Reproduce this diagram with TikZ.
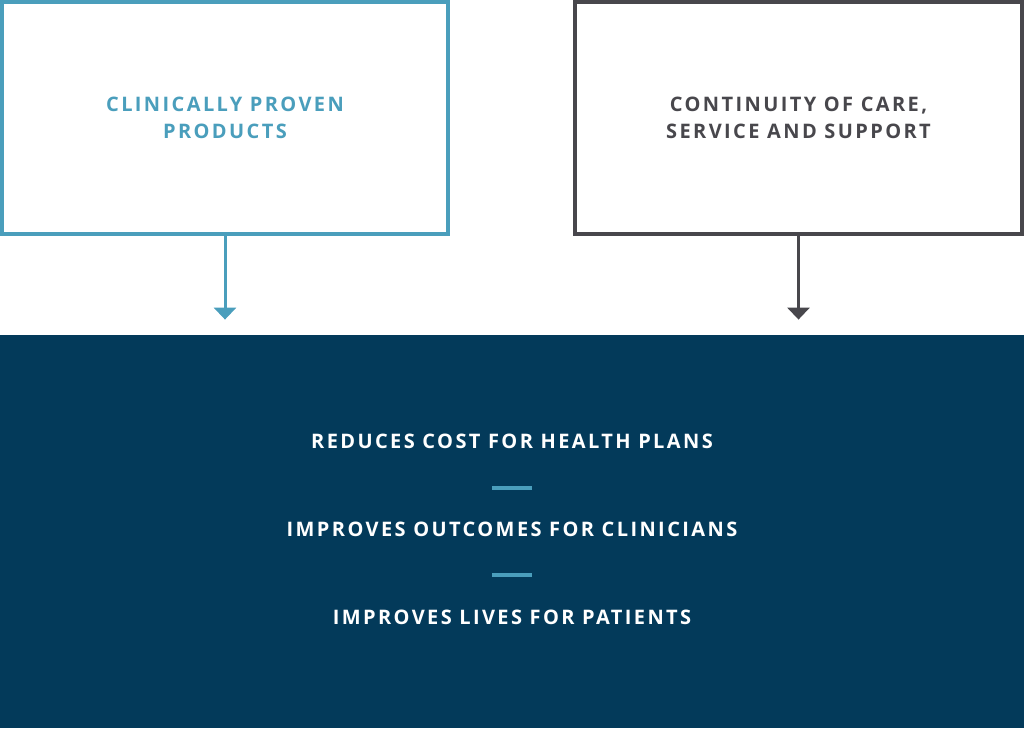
\documentclass[tikz,border=0pt]{standalone}
\usepackage{fontspec}
\usepackage{tikz}
\usetikzlibrary{arrows.meta,positioning}
\setmainfont{Open Sans}
\newfontfamily\capsfont[LetterSpace=12]{Open Sans}
\definecolor{CareTeal}{HTML}{4A9EBC}
\definecolor{CareGray}{HTML}{48474C}
\definecolor{CareNavy}{HTML}{033A5A}
\tikzset{
  pillar/.style={draw=#1, text=#1, line width=4pt, fill=white, minimum height=232pt, align=center,
    inner sep=0pt, font=\capsfont\bfseries\fontsize{20}{27}\selectfont},
  feed/.style={draw=#1, line width=3pt, -{Triangle[width=22pt,length=12pt,fill=#1]}, shorten >=15pt},
  benefit/.style={text=white, font=\capsfont\bfseries\fontsize{20}{23}\selectfont},
  divider/.style={fill=CareTeal, minimum width=40pt, minimum height=4pt, inner sep=0pt}
}

\begin{document}
\begin{tikzpicture}[x=1pt,y=1pt]
    \useasboundingbox (0,0) rectangle (1024,728);
    \node[fill=CareNavy, minimum width=1024pt, minimum height=393pt, inner sep=0pt, anchor=south west] (band) at (0,0) {};
    \node[pillar=CareTeal, minimum width=446pt] (proven) at (225,610) {CLINICALLY PROVEN\\PRODUCTS};
    \node[pillar=CareGray, minimum width=447pt] (support) at (798.5,610) {CONTINUITY OF CARE,\\SERVICE AND SUPPORT};
    \draw[feed=CareTeal] (proven.south) -- (proven.south |- band.north);
    \draw[feed=CareGray] (support.south) -- (support.south |- band.north);
    \node[benefit] (cost) at (512,287) {REDUCES COST FOR HEALTH PLANS};
    \node[divider] (dashA) at (512,240) {};
    \node[benefit] (outcomes) at (512,199) {IMPROVES OUTCOMES FOR CLINICIANS};
    \node[divider] (dashB) at (512,153) {};
    \node[benefit] (lives) at (512,111) {IMPROVES LIVES FOR PATIENTS};
  \end{tikzpicture}
\end{document}
